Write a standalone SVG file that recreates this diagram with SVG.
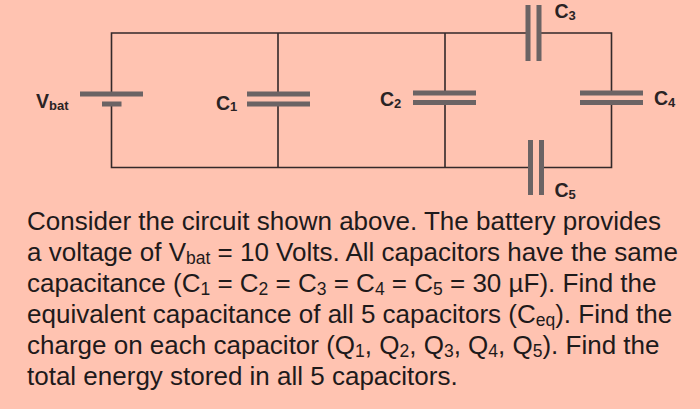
<svg xmlns="http://www.w3.org/2000/svg" width="700" height="409" viewBox="0 0 700 409">
<style>
.wire{fill:none;stroke:#33292a;stroke-width:1.6}
.plate{fill:#6b6364}
.lab{font-family:"Liberation Sans",Arial,sans-serif;font-weight:bold;font-size:19.5px;fill:#2a2324}
.lab .s{font-size:13px}
.body{font-family:"Liberation Sans",Arial,sans-serif;font-size:26px;fill:#1e1a1b}
.body .s{font-size:17.5px}
</style>
<rect width="700" height="409" fill="#ffc3b1"/>
<g id="connectors">
<path class="wire" d="M111.5 93V33H528M539 33H611.5V93M611.5 102V167.5H541M530.500 167.500H111.500V103M278 33V94M278 104V167.500M445 33V93M445 102V167.500"/>
</g>
<g id="Vbat"><rect class="plate" x="80" y="91.500" width="63" height="5"/><rect class="plate" x="102" y="101.500" width="19.500" height="5"/><text class="lab" x="36" y="108">V<tspan class="s" dy="2">bat</tspan></text></g>
<g id="C1"><rect class="plate" x="247" y="91.500" width="63" height="5"/><rect class="plate" x="247" y="101.500" width="63" height="5"/><text class="lab" x="216" y="110">C<tspan class="s" dy="1">1</tspan></text></g>
<g id="C2"><rect class="plate" x="413" y="90.500" width="63" height="5"/><rect class="plate" x="413" y="100" width="63" height="5"/><text class="lab" x="380" y="106">C<tspan class="s" dy="1.500">2</tspan></text></g>
<g id="C3"><rect class="plate" x="525.500" y="5" width="5" height="56"/><rect class="plate" x="536.500" y="5" width="5" height="56"/><text class="lab" x="554.500" y="18">C<tspan class="s" dy="1.500">3</tspan></text></g>
<g id="C4"><rect class="plate" x="580" y="90.500" width="63" height="5"/><rect class="plate" x="580" y="100" width="63" height="5"/><text class="lab" x="654" y="105">C<tspan class="s" dy="1.500">4</tspan></text></g>
<g id="C5"><rect class="plate" x="528" y="140" width="5" height="55"/><rect class="plate" x="539" y="140" width="5" height="55"/><text class="lab" x="554.500" y="197">C<tspan class="s" dy="1.500">5</tspan></text></g>
<g id="problem-text" class="body">
<text x="27" y="230">Consider the circuit shown above. The battery provides</text>
<text x="27" y="261">a voltage of V<tspan class="s" dy="3">bat</tspan><tspan dy="-3"> = 10 Volts. All capacitors have the same</tspan></text>
<text x="27" y="292">capacitance (C<tspan class="s" dy="3">1</tspan><tspan dy="-3"> = C</tspan><tspan class="s" dy="3">2</tspan><tspan dy="-3"> = C</tspan><tspan class="s" dy="3">3</tspan><tspan dy="-3"> = C</tspan><tspan class="s" dy="3">4</tspan><tspan dy="-3"> = C</tspan><tspan class="s" dy="3">5</tspan><tspan dy="-3"> = 30 µF). Find the</tspan></text>
<text x="27" y="323">equivalent capacitance of all 5 capacitors (C<tspan class="s" dy="3">eq</tspan><tspan dy="-3">). Find the</tspan></text>
<text x="27" y="354">charge on each capacitor (Q<tspan class="s" dy="3">1</tspan><tspan dy="-3">, Q</tspan><tspan class="s" dy="3">2</tspan><tspan dy="-3">, Q</tspan><tspan class="s" dy="3">3</tspan><tspan dy="-3">, Q</tspan><tspan class="s" dy="3">4</tspan><tspan dy="-3">, Q</tspan><tspan class="s" dy="3">5</tspan><tspan dy="-3">). Find the</tspan></text>
<text x="27" y="385">total energy stored in all 5 capacitors.</text>
</g>
</svg>
